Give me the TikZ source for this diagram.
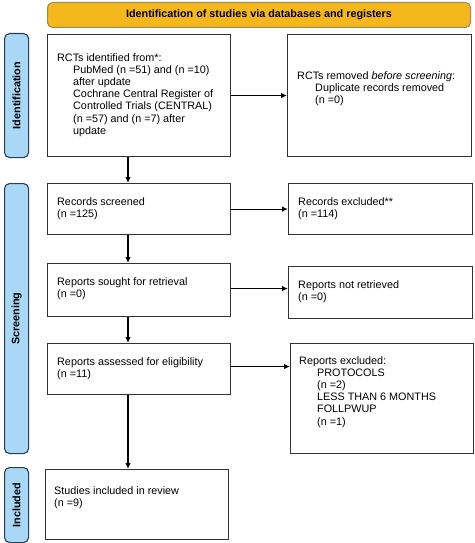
\documentclass[tikz,border=0pt]{standalone}
\usepackage{fontspec}
\setmainfont{Liberation Sans}
\usetikzlibrary{arrows.meta,calc}
\definecolor{hdrfill}{HTML}{F5B81C}
\definecolor{hdrdraw}{HTML}{9A8A5A}
\definecolor{sidefill}{HTML}{A8D8F6}
\definecolor{sidedraw}{HTML}{2A3E56}
\definecolor{boxdraw}{HTML}{333333}
\begin{document}
\begin{tikzpicture}[x=1pt,y=-1pt,
  every node/.style={font=\fontsize{10.8}{12.2}\selectfont},
  box/.style={draw=boxdraw,line width=1.1pt,fill=white,inner sep=0pt,anchor=north west},
  txt/.style={anchor=north west,align=left,inner sep=0pt},
  side/.style={draw=sidedraw,line width=1.1pt,fill=sidefill,rounded corners=5pt,inner sep=0pt,anchor=north west},
  sidetxt/.style={rotate=90,font=\fontsize{10.8}{12}\selectfont\bfseries},
  arr/.style={-{Latex[length=6pt,width=5.5pt]},line width=1.1pt,draw=black}]
\useasboundingbox (0,0) rectangle (474,543);
% header
\node[draw=hdrdraw,line width=1pt,fill=hdrfill,rounded corners=5pt,minimum width=423pt,minimum height=25pt,inner sep=0pt,anchor=north west] (hdr) at (47,2) {};
\node[font=\fontsize{10.8}{12}\selectfont\bfseries] (hdrt) at (hdr.center) {Identification of studies via databases and registers};
% side labels
\node[side,minimum width=24pt,minimum height=124pt] (s1) at (4,33) {};
\node[sidetxt] (s1t) at (s1.center) {Identification};
\node[side,minimum width=24pt,minimum height=270pt] (s2) at (4,183) {};
\node[sidetxt] (s2t) at (s2.center) {Screening};
\node[side,minimum width=24pt,minimum height=75pt] (s3) at (4,467) {};
\node[sidetxt] (s3t) at (s3.center) {Included};
% left column boxes
\node[box,minimum width=183pt,minimum height=122pt] (b1) at (47,34) {};
\node[box,minimum width=183pt,minimum height=51pt] (b2) at (47,183) {};
\node[box,minimum width=183pt,minimum height=53pt] (b3) at (47,263) {};
\node[box,minimum width=183pt,minimum height=51pt] (b4) at (47,343) {};
\node[box,minimum width=183pt,minimum height=70pt] (b5) at (45,469) {};
% right column boxes
\node[box,minimum width=184pt,minimum height=122pt] (r1) at (287,34) {};
\node[box,minimum width=184pt,minimum height=51pt] (r2) at (288,183) {};
\node[box,minimum width=184pt,minimum height=52pt] (r3) at (288,266) {};
\node[box,minimum width=183pt,minimum height=110pt] (r4) at (290,343) {};
% texts
\node[txt] (b1t) at (57,53) {RCTs identified from*:\\
\hspace*{16pt}PubMed (n =51) and (n =10)\\
\hspace*{16pt}after update\\
\hspace*{16pt}Cochrane Central Register of\\
\hspace*{16pt}Controlled Trials (CENTRAL)\\
\hspace*{16pt}(n =57) and (n =7) after\\
\hspace*{16pt}update};
\node[txt] (r1t) at (297,71) {RCTs removed \textit{before screening}:\\
\hspace*{18pt}Duplicate records removed\\
\hspace*{18pt}(n =0)};
\node[txt] (b2t) at (57,197) {Records screened\\(n =125)};
\node[txt] (r2t) at (298,197) {Records excluded**\\(n =114)};
\node[txt] (b3t) at (57,277) {Reports sought for retrieval\\(n =0)};
\node[txt] (r3t) at (298,280) {Reports not retrieved\\(n =0)};
\node[txt] (b4t) at (57,357) {Reports assessed for eligibility\\(n =11)};
\node[txt] (r4t) at (299,356) {Reports excluded:\\
\hspace*{18pt}PROTOCOLS\\
\hspace*{18pt}(n =2)\\
\hspace*{18pt}LESS THAN 6 MONTHS\\
\hspace*{18pt}FOLLPWUP\\
\hspace*{18pt}(n =1)};
\node[txt] (b5t) at (54,486) {Studies included in review\\(n =9)};
% arrows
\coordinate (ax) at (128,0);
\draw[arr] (b1.south -| ax) -- (b2.north -| ax);
\draw[arr] (b2.south -| ax) -- (b3.north -| ax);
\draw[arr] (b3.south -| ax) -- (b4.north -| ax);
\draw[arr] (b4.south -| ax) -- (b5.north -| ax);
\draw[arr] (b1.east) -- (b1.east -| r1.west);
\draw[arr] (b2.east) -- (b2.east -| r2.west);
\draw[arr] ([yshift=1.5pt]b3.east) -- ([yshift=1.5pt]b3.east -| r3.west);
\draw[arr] ([yshift=2.5pt]b4.east) -- ([yshift=2.5pt]b4.east -| r4.west);
\end{tikzpicture}
\end{document}
